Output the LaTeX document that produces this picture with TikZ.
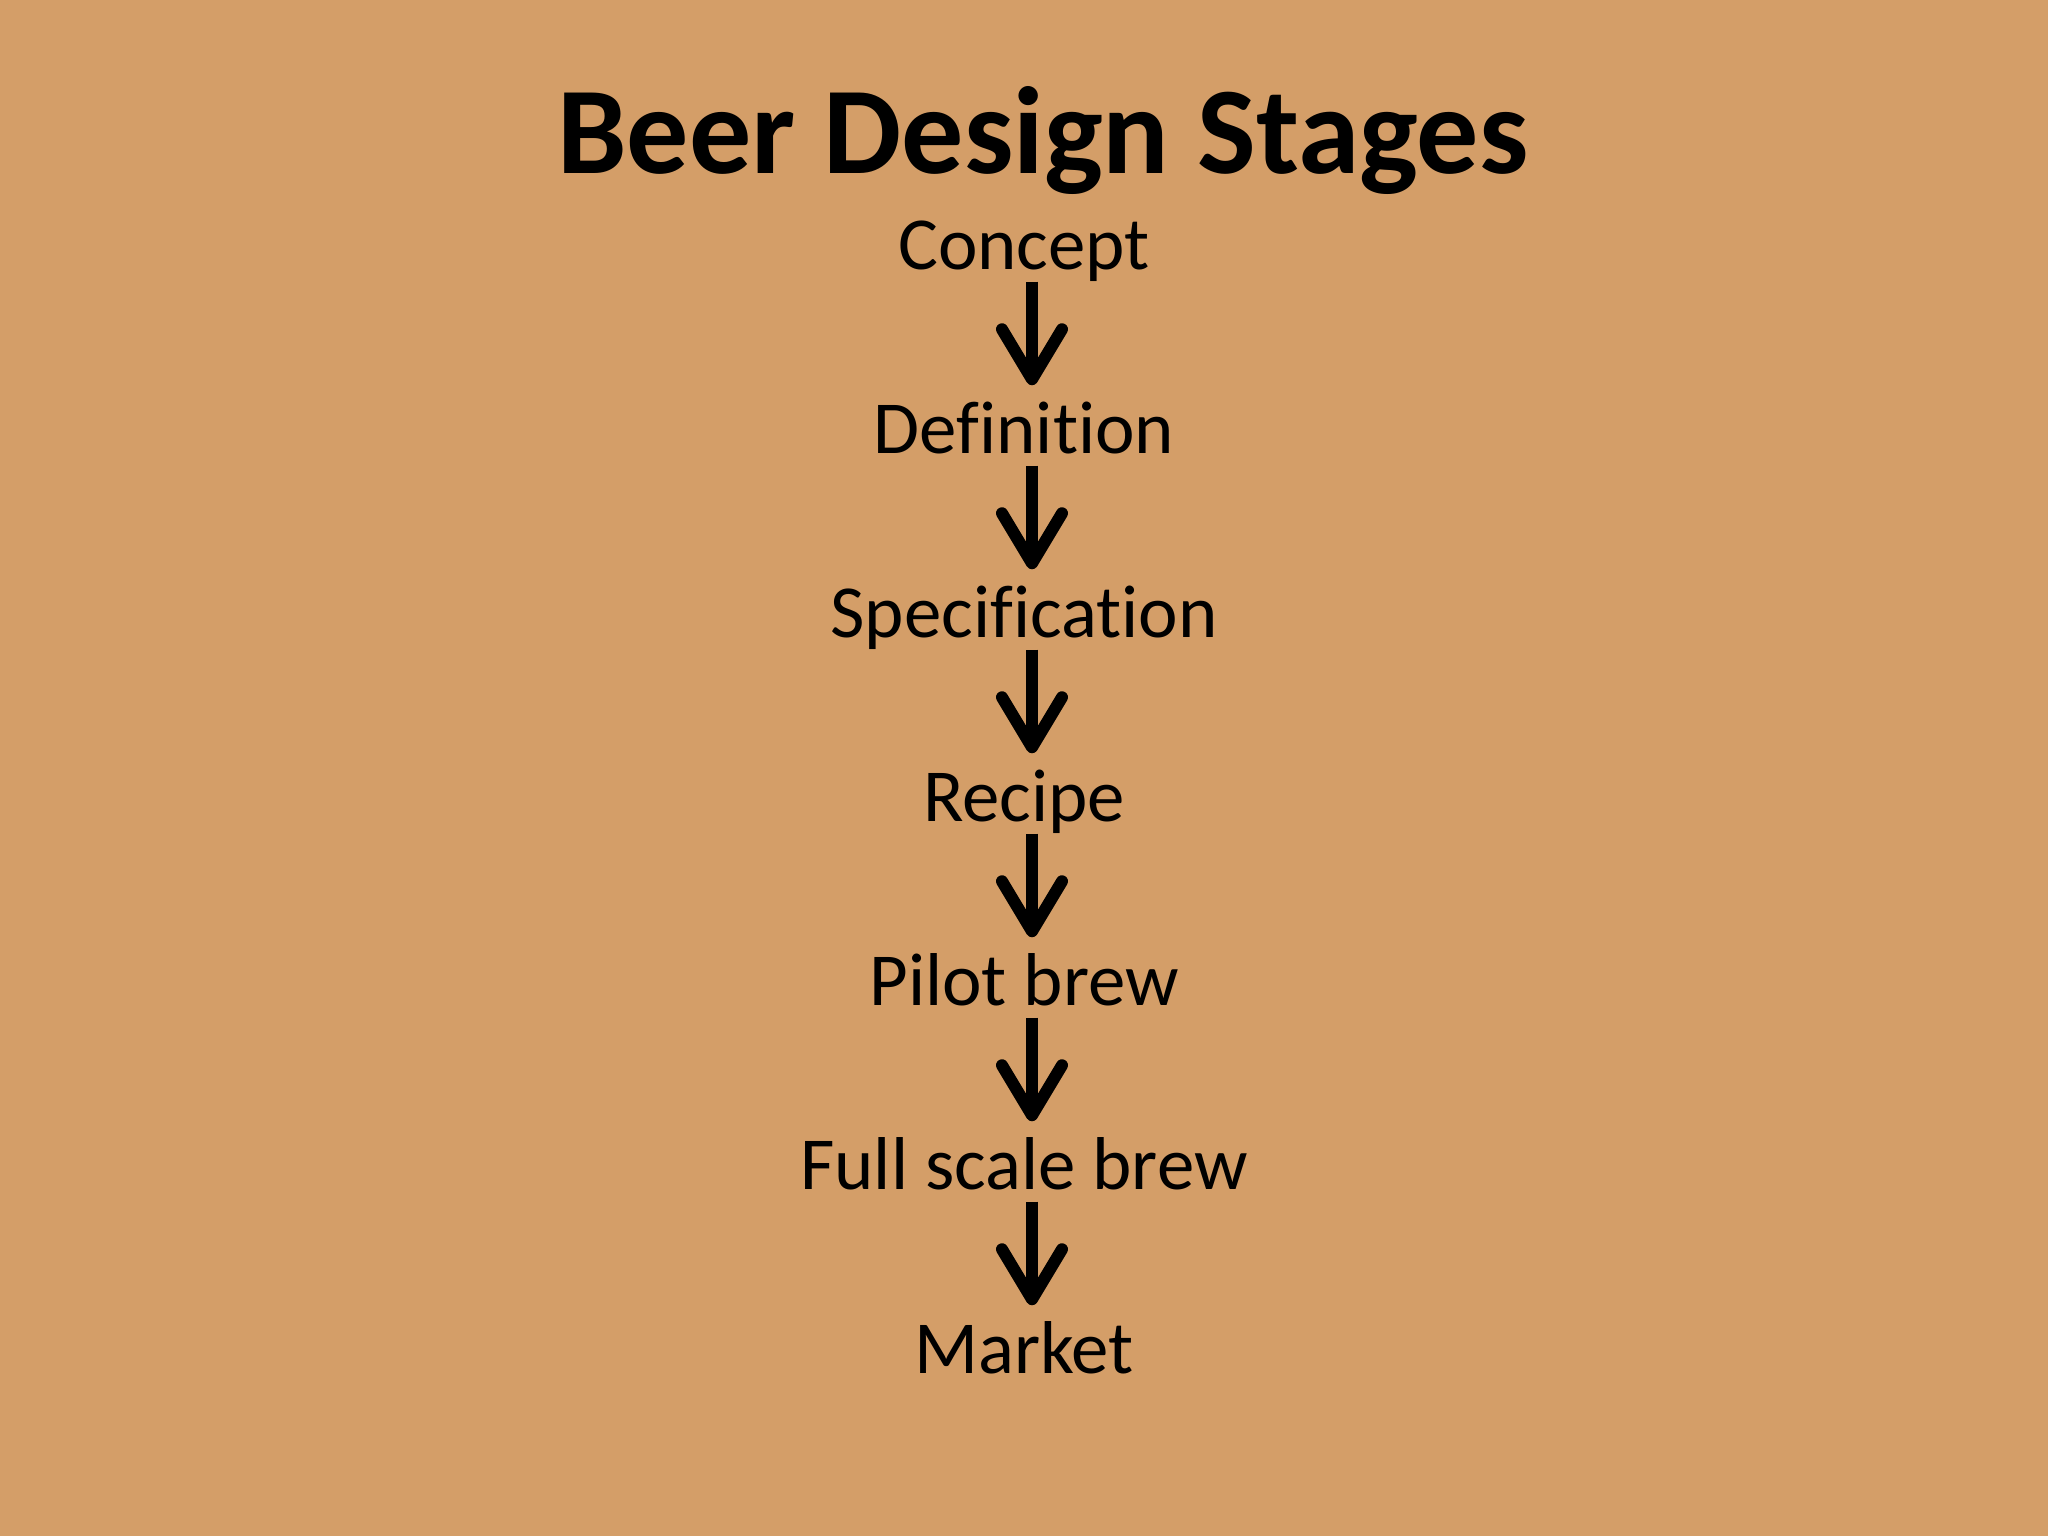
\documentclass[tikz,border=0pt]{standalone}
\usepackage{fontspec}
\setmainfont{Carlito}[Ligatures=NoCommon]
\usetikzlibrary{arrows.meta}
\definecolor{beer}{RGB}{212,158,104}
\tikzset{
  stage/.style={anchor=base, inner sep=0pt, text height=0.68cm, text depth=0.11cm, font=\fontsize{21.3}{25}\selectfont},
  flow/.style={line width=0.12cm, -{Straight Barb[length=0.5cm, width=0.6cm, line cap=round, line join=round]}}
}
\begin{document}
\begin{tikzpicture}
\fill [beer] (0,0) rectangle (20.48,15.36);
\useasboundingbox (0,0) rectangle (20.48,15.36);
\node [anchor=base, font=\fontsize{35.3}{40}\selectfont\bfseries] (title) at (10.43,13.62) {Beer Design Stages};
\node [stage] (concept) at (10.24,12.66) {Concept};
\node [stage] (definition) at (10.24,10.82) {Definition};
\node [stage] (specification) at (10.24,8.98) {Specification};
\node [stage] (recipe) at (10.24,7.14) {Recipe};
\node [stage] (pilot) at (10.24,5.30) {Pilot brew};
\node [stage] (fullscale) at (10.24,3.46) {Full scale brew};
\node [stage] (market) at (10.24,1.62) {Market};
\draw [flow] ([xshift=0.08cm]concept.south) -- ([xshift=0.08cm]definition.north);
\draw [flow] ([xshift=0.08cm]definition.south) -- ([xshift=0.08cm]specification.north);
\draw [flow] ([xshift=0.08cm]specification.south) -- ([xshift=0.08cm]recipe.north);
\draw [flow] ([xshift=0.08cm]recipe.south) -- ([xshift=0.08cm]pilot.north);
\draw [flow] ([xshift=0.08cm]pilot.south) -- ([xshift=0.08cm]fullscale.north);
\draw [flow] ([xshift=0.08cm]fullscale.south) -- ([xshift=0.08cm]market.north);
\end{tikzpicture}
\end{document}
